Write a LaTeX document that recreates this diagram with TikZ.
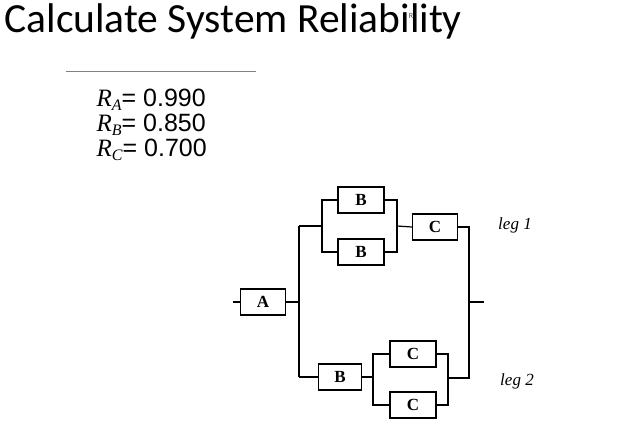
\documentclass[tikz,border=0pt]{standalone}
\usepackage{fontspec}
\setmainfont{Liberation Serif}
\newfontfamily\titlefont{Carlito}
\newfontfamily\numfont{Liberation Sans}
\newcommand{\rsub}[1]{\textit{R}\raisebox{-4pt}{\fontsize{16}{16}\selectfont\textit{#1}}}
\begin{document}
\begin{tikzpicture}[x=1pt,y=-1pt,line width=1.2pt,
  blk/.style={draw,rectangle,inner sep=0pt,minimum width=46pt,minimum height=26pt,font=\fontsize{17}{17}\selectfont\bfseries},
  leg/.style={font=\fontsize{17}{17}\selectfont\itshape}]
\useasboundingbox (0,0) rectangle (629,444);
\node[anchor=base west,inner sep=0pt,font=\titlefont\fontsize{41.5}{41.5}\selectfont] (title) at (4,33) {Calculate System Reliability};
\node[inner sep=0pt,font=\titlefont\fontsize{8}{8}\selectfont,text=black!70] (rmark) at (411,16) {R};
\draw[gray,line width=0.8pt] (66,71) coordinate (l1) -- (256,71) coordinate (l2);
\node[anchor=west,inner sep=0pt,align=left,font=\fontsize{25}{25}\selectfont] (eqs) at (96,125)
 {\rsub{A}\numfont= 0.990\\ \rsub{B}\numfont= 0.850\\ \rsub{C}\numfont= 0.700};
% blocks
\node[blk,minimum width=45pt] (A) at (263,302) {A};
\node[blk] (B1) at (361,200) {B};
\node[blk] (B2) at (361,252) {B};
\node[blk,minimum width=45pt] (C1) at (435,227) {C};
\node[blk,minimum width=43pt] (B3) at (340,377) {B};
\node[blk] (C2) at (413,354) {C};
\node[blk] (C3) at (413,405) {C};
\coordinate (in) at (233,302);
\coordinate (out) at (484,302);
\draw (in) -- (A.west);
\draw (A.east) -- (299,302);
\draw (299,226) -- (299,377);
\draw (299,226) -- (322,226);
\draw (B1.west) -| (322,226) |- (B2.west);
\draw (B1.east) -| (397,226) |- (B2.east);
\draw (397,226) -- (C1.west);
\draw (C1.east) -| (469,302) -- (out);
\draw (299,377) -- (B3.west);
\draw (B3.east) -- (373,377);
\draw (C2.west) -| (373,377) |- (C3.west);
\draw (C2.east) -| (448,378) |- (C3.east);
\draw (448,378) -| (469,302);
\node[leg] (leg1) at (515,225) {leg 1};
\node[leg] (leg2) at (517,381) {leg 2};
\end{tikzpicture}
\end{document}
